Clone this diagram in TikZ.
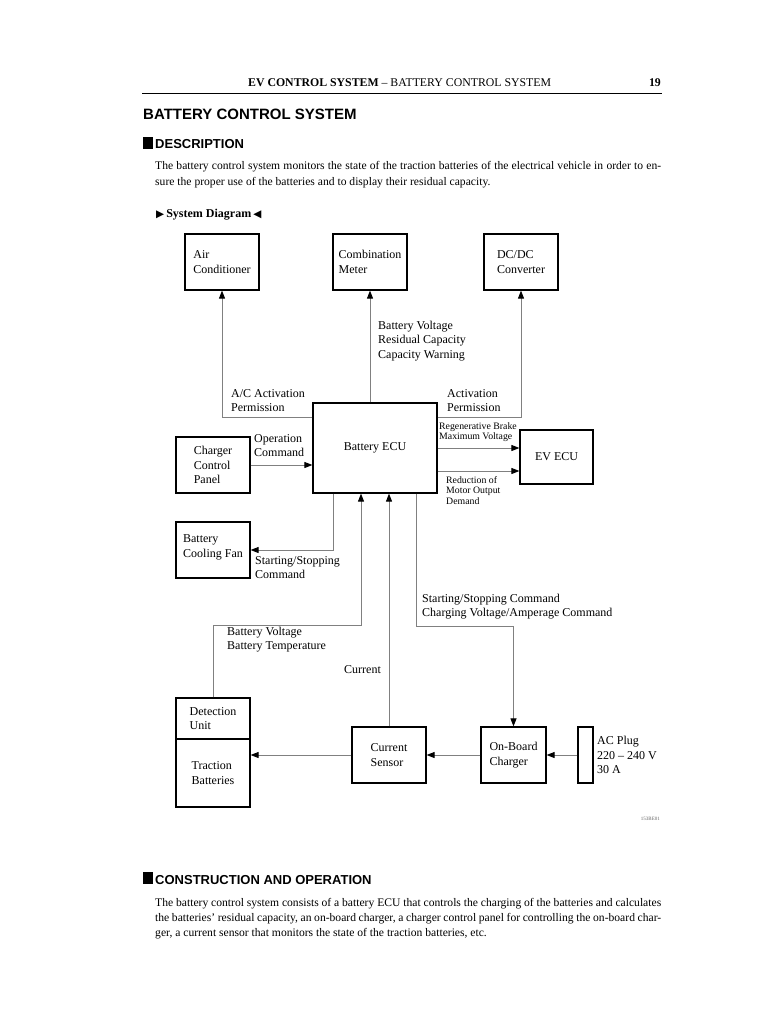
\documentclass[tikz,border=0pt]{standalone}
\usepackage{fontspec}
\setmainfont{Liberation Serif}
\newfontfamily\headsans{Liberation Sans}
\newfontfamily\symfont{DejaVu Sans}
\usetikzlibrary{arrows.meta,positioning,calc}
\newcommand{\diagfont}{\fontsize{12}{14.5}\selectfont}
\newcommand{\smallfont}{\fontsize{9.8}{10.6}\selectfont}
\newcommand{\bodyfont}{\fontsize{11.6}{16}\selectfont}
\newcommand{\headfont}{\headsans\bfseries\fontsize{13}{15}\selectfont}
\tikzset{
  blk/.style={draw=black, line width=1.2pt, align=left, inner sep=0pt, font=\diagfont},
  wire/.style={draw=black!50, line width=0.9pt},
  arr/.style={-{Triangle[length=8pt,width=6pt,color=black]}},
  lbl/.style={anchor=west, inner sep=0pt, align=left, font=\diagfont},
  slbl/.style={anchor=west, inner sep=0pt, align=left, font=\smallfont},
  txt/.style={inner sep=0pt}
}
\begin{document}
\begin{tikzpicture}[x=1pt,y=-1pt]
\useasboundingbox (0,0) rectangle (768,1024);
\fill[white] (0,0) rectangle (768,1024);

% page header
\node[txt, anchor=base west, font=\fontsize{11.8}{14}\selectfont] (hdr) at (248,87) {\textbf{EV CONTROL SYSTEM} – BATTERY CONTROL SYSTEM};
\node[txt, anchor=base east, font=\fontsize{11.8}{14}\selectfont\bfseries] (pg) at (661,87) {19};
\draw[line width=1pt] (142,94) -- (662,94);

\node[txt, anchor=base west, font=\headsans\bfseries\fontsize{15}{18}\selectfont] (title) at (143,120) {BATTERY CONTROL SYSTEM};
\node[txt, anchor=base west, font=\headfont] (desc) at (143,149) {\rule{10pt}{12pt}\hspace{2pt}DESCRIPTION};
\node[txt, anchor=west, text width=506pt, align=justify, font=\bodyfont] (para1) at (155,175)
  {The battery control system monitors the state of the traction batteries of the electrical vehicle in order to en-\linebreak sure the proper use of the batteries and to display their residual capacity.};
\node[txt, anchor=base west, font=\fontsize{12}{14}\selectfont\bfseries] (sysd) at (156,218)
  {{\symfont\fontsize{10.5}{11}\selectfont ▶}\hspace{2pt}System Diagram\hspace{2pt}{\symfont\fontsize{10.5}{11}\selectfont ◀}};

% boxes
\node[blk, minimum width=74pt, minimum height=56pt] (ac) at (222,262) {Air\\Conditioner};
\node[blk, minimum width=74pt, minimum height=56pt] (meter) at (370,262) {Combination\\Meter};
\node[blk, minimum width=74pt, minimum height=56pt] (dcdc) at (521,262) {DC/DC\\Converter};
\node[blk, minimum width=124pt, minimum height=90pt] (ecu) at (375,448) {Battery ECU};
\node[blk, minimum width=74pt, minimum height=56pt] (ccp) at (213,465) {Charger\\Control\\Panel};
\node[blk, minimum width=73pt, minimum height=54pt] (evecu) at (556.5,457) {EV ECU};
\node[blk, minimum width=74pt, minimum height=56pt] (fan) at (213,550) {Battery\\Cooling Fan\vspace{5pt}};
\node[blk, minimum width=74pt, minimum height=41pt] (det) at (213,718.5) {Detection\\Unit};
\node[blk, minimum width=74pt, minimum height=68pt] (trac) at (213,773) {Traction\\Batteries};
\node[blk, minimum width=74pt, minimum height=56pt] (cs) at (389,755) {Current\\Sensor};
\node[blk, minimum width=65pt, minimum height=56pt] (obc) at (513.5,755) {On-Board\\Charger};
\node[blk, minimum width=15pt, minimum height=56pt] (plug) at (585.5,755) {};

% bend coordinates
\coordinate (yperm) at (0,417);
\coordinate (yregen) at (0,448);
\coordinate (yred) at (0,471);
\coordinate (xfan) at (333,0);
\coordinate (xdet) at (361,0);
\coordinate (ydet) at (0,625);
\coordinate (xobc) at (416,0);
\coordinate (yobc) at (0,626);

% connectors
\draw[wire,arr] (ecu.west |- yperm) -| (ac.south);
\draw[wire,arr] (ecu.north -| meter.south) -- (meter.south);
\draw[wire,arr] (ecu.east |- yperm) -| (dcdc.south);
\draw[wire,arr] (ccp.east) -- (ccp.east -| ecu.west);
\draw[wire,arr] (ecu.east |- yregen) -- (evecu.west |- yregen);
\draw[wire,arr] (ecu.east |- yred) -- (evecu.west |- yred);
\draw[wire,arr] (ecu.south -| xfan) |- (fan.east);
\draw[wire,arr] (det.north) |- (ydet -| xdet) -- (ecu.south -| xdet);
\draw[wire,arr] (cs.north) -- (cs.north |- ecu.south);
\draw[wire,arr] (ecu.south -| xobc) |- (yobc -| obc.north) -- (obc.north);
\draw[wire,arr] (plug.west) -- (obc.east);
\draw[wire,arr] (obc.west) -- (cs.east);
\draw[wire,arr] (cs.west) -- (cs.west -| trac.east);

% labels
\node[lbl] (lac) at (231,400.5) {A/C Activation\\Permission};
\node[lbl] (ldc) at (447,400.5) {Activation\\Permission};
\node[lbl] (lmeter) at (378,341) {Battery Voltage\\Residual Capacity\\Capacity Warning};
\node[lbl] (lop) at (254,445.5) {Operation\\Command};
\node[slbl] (lregen) at (439,432) {Regenerative Brake\\Maximum Voltage};
\node[slbl] (lred) at (446,490.5) {Reduction of\\Motor Output\\Demand};
\node[lbl] (lfan) at (255,567.5) {Starting/Stopping\\Command};
\node[lbl] (lchg) at (422,606.5) {Starting/Stopping Command\\Charging Voltage/Amperage Command};
\node[lbl] (lbat) at (227,639.5) {Battery Voltage\\Battery Temperature};
\node[lbl] (lcur) at (344,670) {Current};
\node[lbl] (lplug) at (597,755) {AC Plug\\220 – 240 V\\30 A};
\node[txt, anchor=base east, font=\fontsize{5}{6}\selectfont, text=black!60] (code) at (660,820) {153BE01};

% construction
\node[txt, anchor=base west, font=\headfont] (cons) at (143,884) {\rule{10pt}{12pt}\hspace{2pt}CONSTRUCTION AND OPERATION};
\node[txt, anchor=west, text width=506pt, align=justify, font=\fontsize{11.6}{15}\selectfont] (para2) at (155,919)
  {The battery control system consists of a battery ECU that controls the charging of the batteries and calculates\linebreak the batteries’ residual capacity, an on-board charger, a charger control panel for controlling the on-board char-\linebreak ger, a current sensor that monitors the state of the traction batteries, etc.};
\end{tikzpicture}
\end{document}
